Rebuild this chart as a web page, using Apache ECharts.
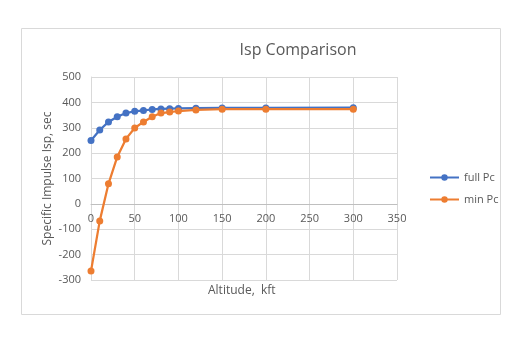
<!DOCTYPE html>
<html>
<head>
<meta charset="utf-8">
<script src="https://cdn.jsdelivr.net/npm/echarts@6/dist/echarts.min.js"></script>
<style>
  html, body { margin: 0; padding: 0; background: #fff; }
  #chart { width: 529px; height: 352px; }
</style>
</head>
<body>
<div id="chart"></div>
<script>
const altitudes = [0, 10, 20, 30, 40, 50, 60, 70, 80, 90, 100, 120, 150, 200, 300];
const fullPc = [250, 291, 323, 343, 358, 365, 368, 372, 374, 375, 376, 377, 378, 378, 379];
const minPc = [-265, -67, 79, 185, 256, 299, 323, 343, 358, 362, 366, 370, 373, 373, 373];
const seriesNames = ['full Pc', 'min Pc'];

const font = 'Open Sans';
const textColor = '#595959';

const pairs = (ys) => altitudes.map((x, i) => [x, ys[i]]);

// plot area; x axis crosses at y = 0 (5/8 of the way down from 500 to -300)
const plot = { left: 91, top: 77, width: 306, height: 203 };
const zeroOffset = -plot.height * 3 / 8;

const chart = echarts.init(document.getElementById('chart'));
chart.setOption({
  animation: false,
  color: ['#4472C4', '#ED7D31'],
  textStyle: { fontFamily: font },
  title: {
    text: 'Isp Comparison',
    left: 293,
    top: 37,
    textAlign: 'center',
    textStyle: { fontFamily: font, fontSize: 16, fontWeight: 'normal', color: textColor },
  },
  legend: {
    orient: 'vertical',
    left: 424,
    top: 167,
    itemWidth: 29,
    itemHeight: 8,
    itemGap: 11,
    data: seriesNames,
    textStyle: { fontFamily: font, fontSize: 11, color: textColor },
  },
  graphic: [
    {
      type: 'rect',
      shape: { x: 21.5, y: 28.5, width: 479, height: 286 },
      style: { fill: 'none', stroke: '#d9d9d9', lineWidth: 1 },
      silent: true,
    },
    {
      type: 'text',
      left: 208,
      top: 285,
      style: { text: 'Altitude,  kft', fontFamily: font, fontSize: 12, fill: textColor },
    },
  ],
  grid: { ...plot, containLabel: false },
  xAxis: {
    type: 'value',
    min: 0,
    max: 350,
    interval: 50,
    offset: zeroOffset,
    axisLine: { onZero: false, lineStyle: { color: '#bfbfbf' } },
    axisTick: { show: false },
    axisLabel: { fontFamily: font, fontSize: 11, color: textColor, margin: 9 },
    splitLine: { lineStyle: { color: '#d9d9d9' } },
  },
  yAxis: {
    type: 'value',
    min: -300,
    max: 500,
    interval: 100,
    name: 'Specific Impulse Isp, sec',
    nameLocation: 'middle',
    nameGap: 37,
    nameMoveOverlap: false,
    nameTextStyle: { fontFamily: font, fontSize: 12, color: textColor },
    axisLine: { show: true, onZero: false, lineStyle: { color: '#d9d9d9' } },
    axisTick: { show: false },
    axisLabel: { fontFamily: font, fontSize: 11, color: textColor, margin: 10 },
    splitLine: { lineStyle: { color: '#d9d9d9' } },
  },
  series: [
    {
      name: seriesNames[0],
      type: 'line',
      data: pairs(fullPc),
      symbol: 'circle',
      symbolSize: 7,
      lineStyle: { width: 2.25 },
      z: 3,
    },
    {
      name: seriesNames[1],
      type: 'line',
      data: pairs(minPc),
      symbol: 'circle',
      symbolSize: 7,
      lineStyle: { width: 2.25 },
      z: 4,
    },
  ],
});
</script>
</body>
</html>
